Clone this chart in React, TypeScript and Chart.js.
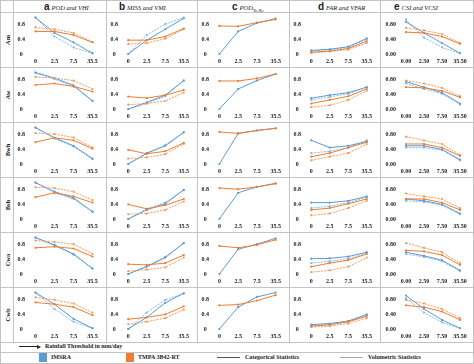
import React, { useEffect, useRef } from 'react';
import { Chart, registerables } from 'chart.js';
Chart.register(...registerables);

const regions = ['Am', 'Aw', 'Bwh', 'Bsh', 'Cwa', 'Cwb'];
const thresholds = ['0', '2.5', '7.5', '35.5'];
const thresholdsTwoDecimals = ['0.00', '2.50', '7.50', '35.50'];

// a: POD and VHI
const imsraPodCat = [[1, 0.58, 0.32, 0.02], [1, 0.85, 0.65, 0.22], [1, 0.72, 0.5, 0.15], [1, 0.75, 0.58, 0.2], [1, 0.8, 0.55, 0.15], [1, 0.68, 0.28, 0.02]];
const imsraPodVol = [[1, 0.48, 0.18, 0.02], [1, 0.82, 0.62, 0.22], [1, 0.7, 0.48, 0.13], [1, 0.72, 0.55, 0.2], [1, 0.78, 0.53, 0.15], [1, 0.55, 0.2, 0.02]];
const tmpaPodCat = [[0.62, 0.62, 0.52, 0.32], [0.66, 0.7, 0.62, 0.48], [0.6, 0.72, 0.65, 0.42], [0.6, 0.72, 0.62, 0.45], [0.72, 0.75, 0.7, 0.48], [0.73, 0.68, 0.6, 0.38]];
const tmpaPodVol = [[0.73, 0.68, 0.58, 0.33], [0.88, 0.85, 0.78, 0.55], [0.85, 0.82, 0.73, 0.45], [0.87, 0.85, 0.75, 0.52], [0.92, 0.88, 0.82, 0.55], [0.87, 0.8, 0.7, 0.45]];

// b: MISS and VMI
const imsraMissCat = [[0, 0.38, 0.68, 0.98], [0, 0.18, 0.38, 0.78], [0, 0.3, 0.5, 0.87], [0, 0.25, 0.42, 0.8], [0, 0.2, 0.45, 0.85], [0, 0.32, 0.72, 0.98]];
const imsraMissVol = [[0, 0.52, 0.82, 1], [0, 0.15, 0.35, 0.78], [0, 0.28, 0.52, 0.87], [0, 0.28, 0.45, 0.8], [0, 0.22, 0.47, 0.85], [0, 0.45, 0.8, 0.98]];
const tmpaMissCat = [[0.38, 0.38, 0.48, 0.7], [0.34, 0.3, 0.38, 0.52], [0.39, 0.28, 0.35, 0.58], [0.4, 0.28, 0.38, 0.55], [0.27, 0.25, 0.3, 0.52], [0.27, 0.32, 0.4, 0.62]];
const tmpaMissVol = [[0.27, 0.3, 0.42, 0.68], [0.12, 0.15, 0.22, 0.45], [0.15, 0.18, 0.27, 0.55], [0.13, 0.15, 0.25, 0.48], [0.08, 0.12, 0.18, 0.45], [0.13, 0.2, 0.3, 0.53]];

// c: POD above threshold
const imsraPodTh = [[0, 0.62, 0.85, 0.97], [0, 0.55, 0.78, 0.96], [0, 0.84, 0.92, 0.98], [0, 0.72, 0.88, 0.97], [0, 0.68, 0.82, 0.98], [0, 0.6, 0.88, 1]];
const tmpaPodTh = [[0.77, 0.76, 0.86, 0.95], [0.77, 0.77, 0.84, 0.96], [0.88, 0.84, 0.92, 0.98], [0.85, 0.82, 0.88, 0.98], [0.77, 0.72, 0.8, 0.94], [0.65, 0.67, 0.78, 0.93]];

// d: FAR and VFAR
const imsraFarCat = [[0.1, 0.13, 0.2, 0.43], [0.3, 0.38, 0.45, 0.6], [0.65, 0.45, 0.5, 0.62], [0.45, 0.45, 0.5, 0.62], [0.42, 0.43, 0.48, 0.6], [0.12, 0.15, 0.22, 0.4]];
const imsraFarVol = [[0.08, 0.12, 0.18, 0.4], [0.25, 0.33, 0.42, 0.6], [0.3, 0.35, 0.45, 0.65], [0.3, 0.35, 0.45, 0.6], [0.3, 0.35, 0.42, 0.58], [0.08, 0.12, 0.2, 0.38]];
const tmpaFarCat = [[0.05, 0.08, 0.15, 0.35], [0.15, 0.25, 0.35, 0.55], [0.2, 0.3, 0.45, 0.6], [0.25, 0.3, 0.42, 0.55], [0.2, 0.3, 0.38, 0.55], [0.08, 0.12, 0.2, 0.35]];
const tmpaFarVol = [[0.03, 0.07, 0.12, 0.3], [0.05, 0.1, 0.25, 0.5], [0.1, 0.2, 0.3, 0.55], [0.1, 0.15, 0.3, 0.5], [0.05, 0.1, 0.2, 0.45], [0.05, 0.08, 0.15, 0.3]];

// e: CSI and VCSI
const imsraCsiCat = [[0.88, 0.58, 0.3, 0.02], [0.75, 0.6, 0.45, 0.15], [0.5, 0.5, 0.4, 0.12], [0.55, 0.5, 0.4, 0.15], [0.6, 0.5, 0.38, 0.1], [0.92, 0.55, 0.25, 0.02]];
const imsraCsiVol = [[0.95, 0.45, 0.18, 0.02], [0.7, 0.55, 0.42, 0.12], [0.45, 0.45, 0.38, 0.1], [0.5, 0.47, 0.38, 0.13], [0.55, 0.47, 0.35, 0.08], [0.85, 0.45, 0.18, 0.02]];
const tmpaCsiCat = [[0.6, 0.58, 0.48, 0.28], [0.6, 0.58, 0.5, 0.32], [0.55, 0.55, 0.45, 0.22], [0.55, 0.55, 0.45, 0.25], [0.65, 0.62, 0.52, 0.25], [0.65, 0.6, 0.48, 0.25]];
const tmpaCsiVol = [[0.72, 0.65, 0.55, 0.3], [0.78, 0.7, 0.58, 0.35], [0.75, 0.65, 0.55, 0.25], [0.7, 0.62, 0.55, 0.3], [0.85, 0.72, 0.6, 0.3], [0.8, 0.7, 0.55, 0.3]];

const BLUE = '#5B9BD5';
const BLUE_LIGHT = '#86B8E4';
const ORANGE = '#ED7D31';
const ORANGE_LIGHT = '#F09A60';
const GRID = '#C4C4C4';
const SERIF = "'Liberation Serif', 'Times New Roman', serif";
const SANS = "'Liberation Sans', Arial, sans-serif";

type Series = { values: number[][]; color: string; dashed: boolean };
type PanelDef = { letter: string; title: string; sub?: string; labels: string[]; twoDec: boolean; titleX: number; series: Series[] };

const cat = (values: number[][], color: string): Series => ({ values, color, dashed: false });
const vol = (values: number[][], color: string): Series => ({ values, color, dashed: true });

const panels: PanelDef[] = [
  { letter: 'a', title: 'POD and VHI', labels: thresholds, twoDec: false, titleX: 44,
    series: [cat(tmpaPodCat, ORANGE), vol(tmpaPodVol, ORANGE_LIGHT), cat(imsraPodCat, BLUE), vol(imsraPodVol, BLUE_LIGHT)] },
  { letter: 'b', title: 'MISS and VMI', labels: thresholds, twoDec: false, titleX: 119,
    series: [cat(tmpaMissCat, ORANGE), vol(tmpaMissVol, ORANGE_LIGHT), cat(imsraMissCat, BLUE), vol(imsraMissVol, BLUE_LIGHT)] },
  { letter: 'c', title: 'POD', sub: 'Yo,Ro', labels: thresholds, twoDec: false, titleX: 232,
    series: [cat(tmpaPodTh, ORANGE), cat(imsraPodTh, BLUE)] },
  { letter: 'd', title: 'FAR and VFAR', labels: thresholds, twoDec: false, titleX: 318,
    series: [cat(tmpaFarCat, ORANGE), vol(tmpaFarVol, ORANGE_LIGHT), cat(imsraFarCat, BLUE), vol(imsraFarVol, BLUE_LIGHT)] },
  { letter: 'e', title: 'CSI and VCSI', labels: thresholdsTwoDecimals, twoDec: true, titleX: 394,
    series: [cat(tmpaCsiCat, ORANGE), vol(tmpaCsiVol, ORANGE_LIGHT), cat(imsraCsiCat, BLUE), vol(imsraCsiVol, BLUE_LIGHT)] },
];

const colX = [13, 106, 197, 289, 380, 473];
const HEADER = 12;
const ROW_H = 55;
const rowTop = (r: number) => HEADER + r * ROW_H;

function Panel({ col, row }: { col: number; row: number }) {
  const ref = useRef<HTMLCanvasElement>(null);
  const p = panels[col];
  const left = colX[col] + 1;
  const width = colX[col + 1] - colX[col] - 1;
  const top = rowTop(row) + 1;
  const height = ROW_H - 2;
  useEffect(() => {
    const tickFont = { family: SERIF, size: 6, weight: 'bold' as const };
    const chart = new Chart(ref.current!, {
      type: 'line',
      data: {
        labels: p.labels,
        datasets: p.series.map((s) => ({
          data: s.values[row],
          borderColor: s.color,
          backgroundColor: s.color,
          pointBackgroundColor: s.color,
          pointBorderColor: s.color,
          borderWidth: 1,
          borderDash: s.dashed ? [2, 1.2] : [],
          pointRadius: 1.1,
          pointBorderWidth: 0,
          tension: 0,
          fill: false,
          clip: false as any,
        })),
      },
      options: {
        animation: false,
        responsive: false,
        maintainAspectRatio: false,
        events: [],
        layout: { padding: { top: 2, right: 2, bottom: 0, left: 0 } },
        plugins: { legend: { display: false }, tooltip: { enabled: false } },
        scales: {
          x: {
            type: 'category',
            offset: true,
            grid: { display: false, drawTicks: false },
            border: { display: false },
            ticks: { font: tickFont, color: '#222', padding: 4, maxRotation: 0, autoSkip: false },
            afterFit: (s: any) => { s.height = 12; },
          },
          y: {
            min: 0,
            max: 1,
            grid: { display: false, drawTicks: false },
            border: { display: false },
            ticks: {
              stepSize: 0.2,
              font: tickFont,
              color: '#222',
              padding: 1,
              crossAlign: 'center',
              callback: (v: any) => (p.twoDec ? Number(v).toFixed(2) : String(Math.round(Number(v) * 10) / 10)),
            },
            afterFit: (s: any) => { s.width = p.twoDec ? 16 : 12; },
          },
        },
      } as any,
    });
    return () => chart.destroy();
  }, [col, row]);
  return <canvas ref={ref} width={width} height={height} style={{ position: 'absolute', left, top, width, height }} />;
}

const hLine = (y: number, x1: number, x2: number, key: string) => (
  <div key={key} style={{ position: 'absolute', left: x1, top: y, width: x2 - x1, height: 1, background: GRID }} />
);
const vLine = (x: number, y1: number, y2: number, key: string) => (
  <div key={key} style={{ position: 'absolute', left: x, top: y1, width: 1, height: y2 - y1, background: GRID }} />
);

export default function App() {
  const lines: React.ReactNode[] = [];
  lines.push(hLine(0, 0, 474, 'h-top'));
  for (let r = 0; r <= regions.length; r++) lines.push(hLine(rowTop(r), 0, 474, 'h' + r));
  lines.push(hLine(352, 0, 474, 'h-legend'));
  lines.push(hLine(363, 0, 474, 'h-bottom'));
  lines.push(vLine(0, 0, 364, 'v-left'));
  lines.push(vLine(473, 0, 364, 'v-right'));
  colX.slice(0, 5).forEach((x, i) => lines.push(vLine(x, 0, rowTop(regions.length), 'v' + i)));

  const boldSerif = { fontFamily: SERIF, fontWeight: 'bold' as const, fontSize: 6, color: '#222', whiteSpace: 'nowrap' as const };

  return (
    <div style={{ position: 'absolute', left: 0, top: 0, width: 474, height: 364, background: '#fff', overflow: 'hidden' }}>
      {lines}
      {panels.map((p, i) => (
        <div key={'t' + i} style={{ position: 'absolute', left: p.titleX, top: 1, height: 11, display: 'flex', alignItems: 'baseline', whiteSpace: 'nowrap', color: '#222' }}>
          <span style={{ fontFamily: SANS, fontWeight: 'bold', fontSize: 10, lineHeight: '11px' }}>{p.letter}</span>
          <span style={{ fontFamily: SERIF, fontStyle: 'italic', fontSize: 6.5, marginLeft: 2 }}>
            {p.title}
            {p.sub ? <sub style={{ fontSize: 4.5, verticalAlign: 'sub' }}>{p.sub}</sub> : null}
          </span>
        </div>
      ))}
      {regions.map((name, r) => (
        <div key={'r' + r} style={{ ...boldSerif, position: 'absolute', left: 7, top: rowTop(r) + ROW_H / 2, transform: 'translate(-50%, -50%) rotate(-90deg)', fontSize: 6.5 }}>
          {name}
        </div>
      ))}
      {regions.map((_, r) => panels.map((_, c) => <Panel key={r + '-' + c} col={c} row={r} />))}
      {/* Rainfall threshold row */}
      <div style={{ position: 'absolute', left: 19, top: 346, width: 19, height: 1, background: '#222' }} />
      <div style={{ position: 'absolute', left: 37, top: 344.5, width: 0, height: 0, borderTop: '2px solid transparent', borderBottom: '2px solid transparent', borderLeft: '4px solid #222' }} />
      <div style={{ ...boldSerif, position: 'absolute', left: 45, top: 342, lineHeight: '9px' }}>Rainfall Threshold in mm/day</div>
      {/* Legend row */}
      <div style={{ position: 'absolute', left: 39, top: 353, width: 8, height: 9, background: BLUE }} />
      <div style={{ ...boldSerif, position: 'absolute', left: 51, top: 353, lineHeight: '9px' }}>IMSRA</div>
      <div style={{ position: 'absolute', left: 126, top: 353, width: 8, height: 9, background: ORANGE }} />
      <div style={{ ...boldSerif, position: 'absolute', left: 138, top: 353, lineHeight: '9px' }}>TMPA 3B42-RT</div>
      <div style={{ position: 'absolute', left: 217, top: 357, width: 23, height: 1, background: '#555' }} />
      <div style={{ ...boldSerif, position: 'absolute', left: 245, top: 353, lineHeight: '9px' }}>Categorical Statistics</div>
      <div style={{ position: 'absolute', left: 340, top: 357, width: 23, height: 1, background: '#A8A8A8' }} />
      <div style={{ ...boldSerif, position: 'absolute', left: 368, top: 353, lineHeight: '9px' }}>Volumetric Statistics</div>
    </div>
  );
}
